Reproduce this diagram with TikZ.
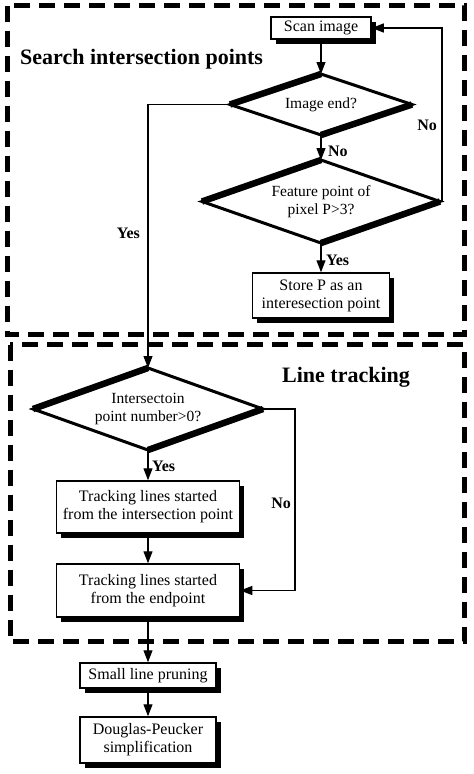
\documentclass[tikz,border=0pt]{standalone}
\usepackage{fontspec}
\setmainfont{Liberation Serif}
\usetikzlibrary{arrows.meta,shapes.geometric}

\tikzset{
    procbox/.style={draw, line width=1.5pt, fill=white, align=center, inner sep=0pt,
        font=\fontsize{16}{18}\selectfont},
    boxshadow/.style={line width=4.5pt, line cap=butt, line join=miter},
    decision/.style={draw, diamond, line width=3pt, fill=white, align=center,
        inner sep=0pt, outer sep=0pt, line join=miter, font=\fontsize{15.5}{18}\selectfont},
    heavyside/.style={line width=6.5pt, line cap=butt},
    flow/.style={line width=1.2pt, -{Triangle[length=12pt,width=9pt]}},
    answer/.style={font=\fontsize{16}{18}\selectfont\bfseries, inner sep=1.5pt},
    stage/.style={draw, line width=5pt, dash pattern=on 16pt off 9pt},
    stagetitle/.style={font=\fontsize{22}{26}\selectfont\bfseries, anchor=base west, inner sep=0pt}
}

\begin{document}
\begin{tikzpicture}[x=1pt, y=-1pt]

        % Sfondo e dimensioni
        \fill[white] (0, 0) rectangle (474, 774);
        \useasboundingbox (0, 0) rectangle (474, 774);

        % Riquadri tratteggiati
        \draw[stage] (7, 5.5) rectangle (464.5, 334.5);
        \draw[stage] (10, 344.5) rectangle (464.5, 641.5);

        % Titoli
        \node[stagetitle] (searchtitle) at (20, 64) {Search intersection points};
        \node[stagetitle] (tracktitle) at (282, 382) {Line tracking};

        % Ricerca dei punti
        \node[procbox, minimum width=100pt, minimum height=22pt] (scan) at (321, 28) {Scan image};
        \node[decision, aspect=2.98, minimum width=182pt, minimum height=61pt] (imgend) at (321, 104.5) {Image end?};
        \node[decision, aspect=2.87, minimum width=238pt, minimum height=83pt] (feat) at (321, 201.5) {Feature point of\\pixel P>3?};
        \node[procbox, minimum width=137pt, minimum height=45pt] (store) at (321, 295.5) {Store P as an\\interesection point};

        % Tracciamento linee
        \node[decision, aspect=2.8, minimum width=230pt, minimum height=82pt] (count) at (148, 409) {Intersectoin\\point number>0?};
        \node[procbox, minimum width=183pt, minimum height=52pt] (trackint) at (148, 507) {Tracking lines started\\from the intersection point};
        \node[procbox, minimum width=183pt, minimum height=53pt] (trackend) at (148, 590.5) {Tracking lines started\\from the endpoint};

        % Post-elaborazione
        \node[procbox, minimum width=136pt, minimum height=25pt] (prune) at (148, 675.5) {Small line pruning};
        \node[procbox, minimum width=136pt, minimum height=46pt] (dp) at (148, 740) {Douglas-Peucker\\simplification};

        % Ombre dei riquadri (centro x / centro y / larghezza / altezza)
        \foreach \bx/\by/\bw/\bh in {321/28/100/22, 321/295.5/137/45, 148/507/183/52,
                                     148/590.5/183/53, 148/675.5/136/25, 148/740/136/46} {
            \draw[boxshadow] ({\bx-\bw/2+4.5}, {\by+\bh/2+2.25}) -- ({\bx+\bw/2+2.25}, {\by+\bh/2+2.25})
                -- ({\bx+\bw/2+2.25}, {\by-\bh/2+4.5});
        }

        % Lati spessi dei rombi
        \foreach \d in {imgend, feat, count} {
            \draw[heavyside] (\d.west) -- (\d.north);
            \draw[heavyside] (\d.east) -- (\d.south);
        }

        % Frecce
        \draw[flow] (scan) -- (imgend);
        \draw[flow] (imgend) -- node[answer, right, pos=0.64, xshift=5pt] {No} (feat);
        \draw[flow] (feat.east) -- ++(2, 0) |- node[answer, left, pos=0.22, xshift=-3pt] {No} (scan.east);
        \draw[flow] (feat) -- node[answer, right, pos=0.6, xshift=3pt] {Yes} (store);
        \draw[flow] (imgend.west) -| node[answer, left, pos=0.744, xshift=-6pt] {Yes} (count.north);
        \draw[flow] (count) -- node[answer, right, pos=0.55, xshift=2pt] {Yes} (trackint);
        \draw[flow] (count.east) -- ++(32, 0) |- node[answer, left, pos=0.26, xshift=-2pt] {No} (trackend.east);
        \draw[flow] (trackint) -- (trackend);
        \draw[flow] (trackend) -- (prune);
        \draw[flow] (prune) -- (dp);

\end{tikzpicture}
\end{document}
